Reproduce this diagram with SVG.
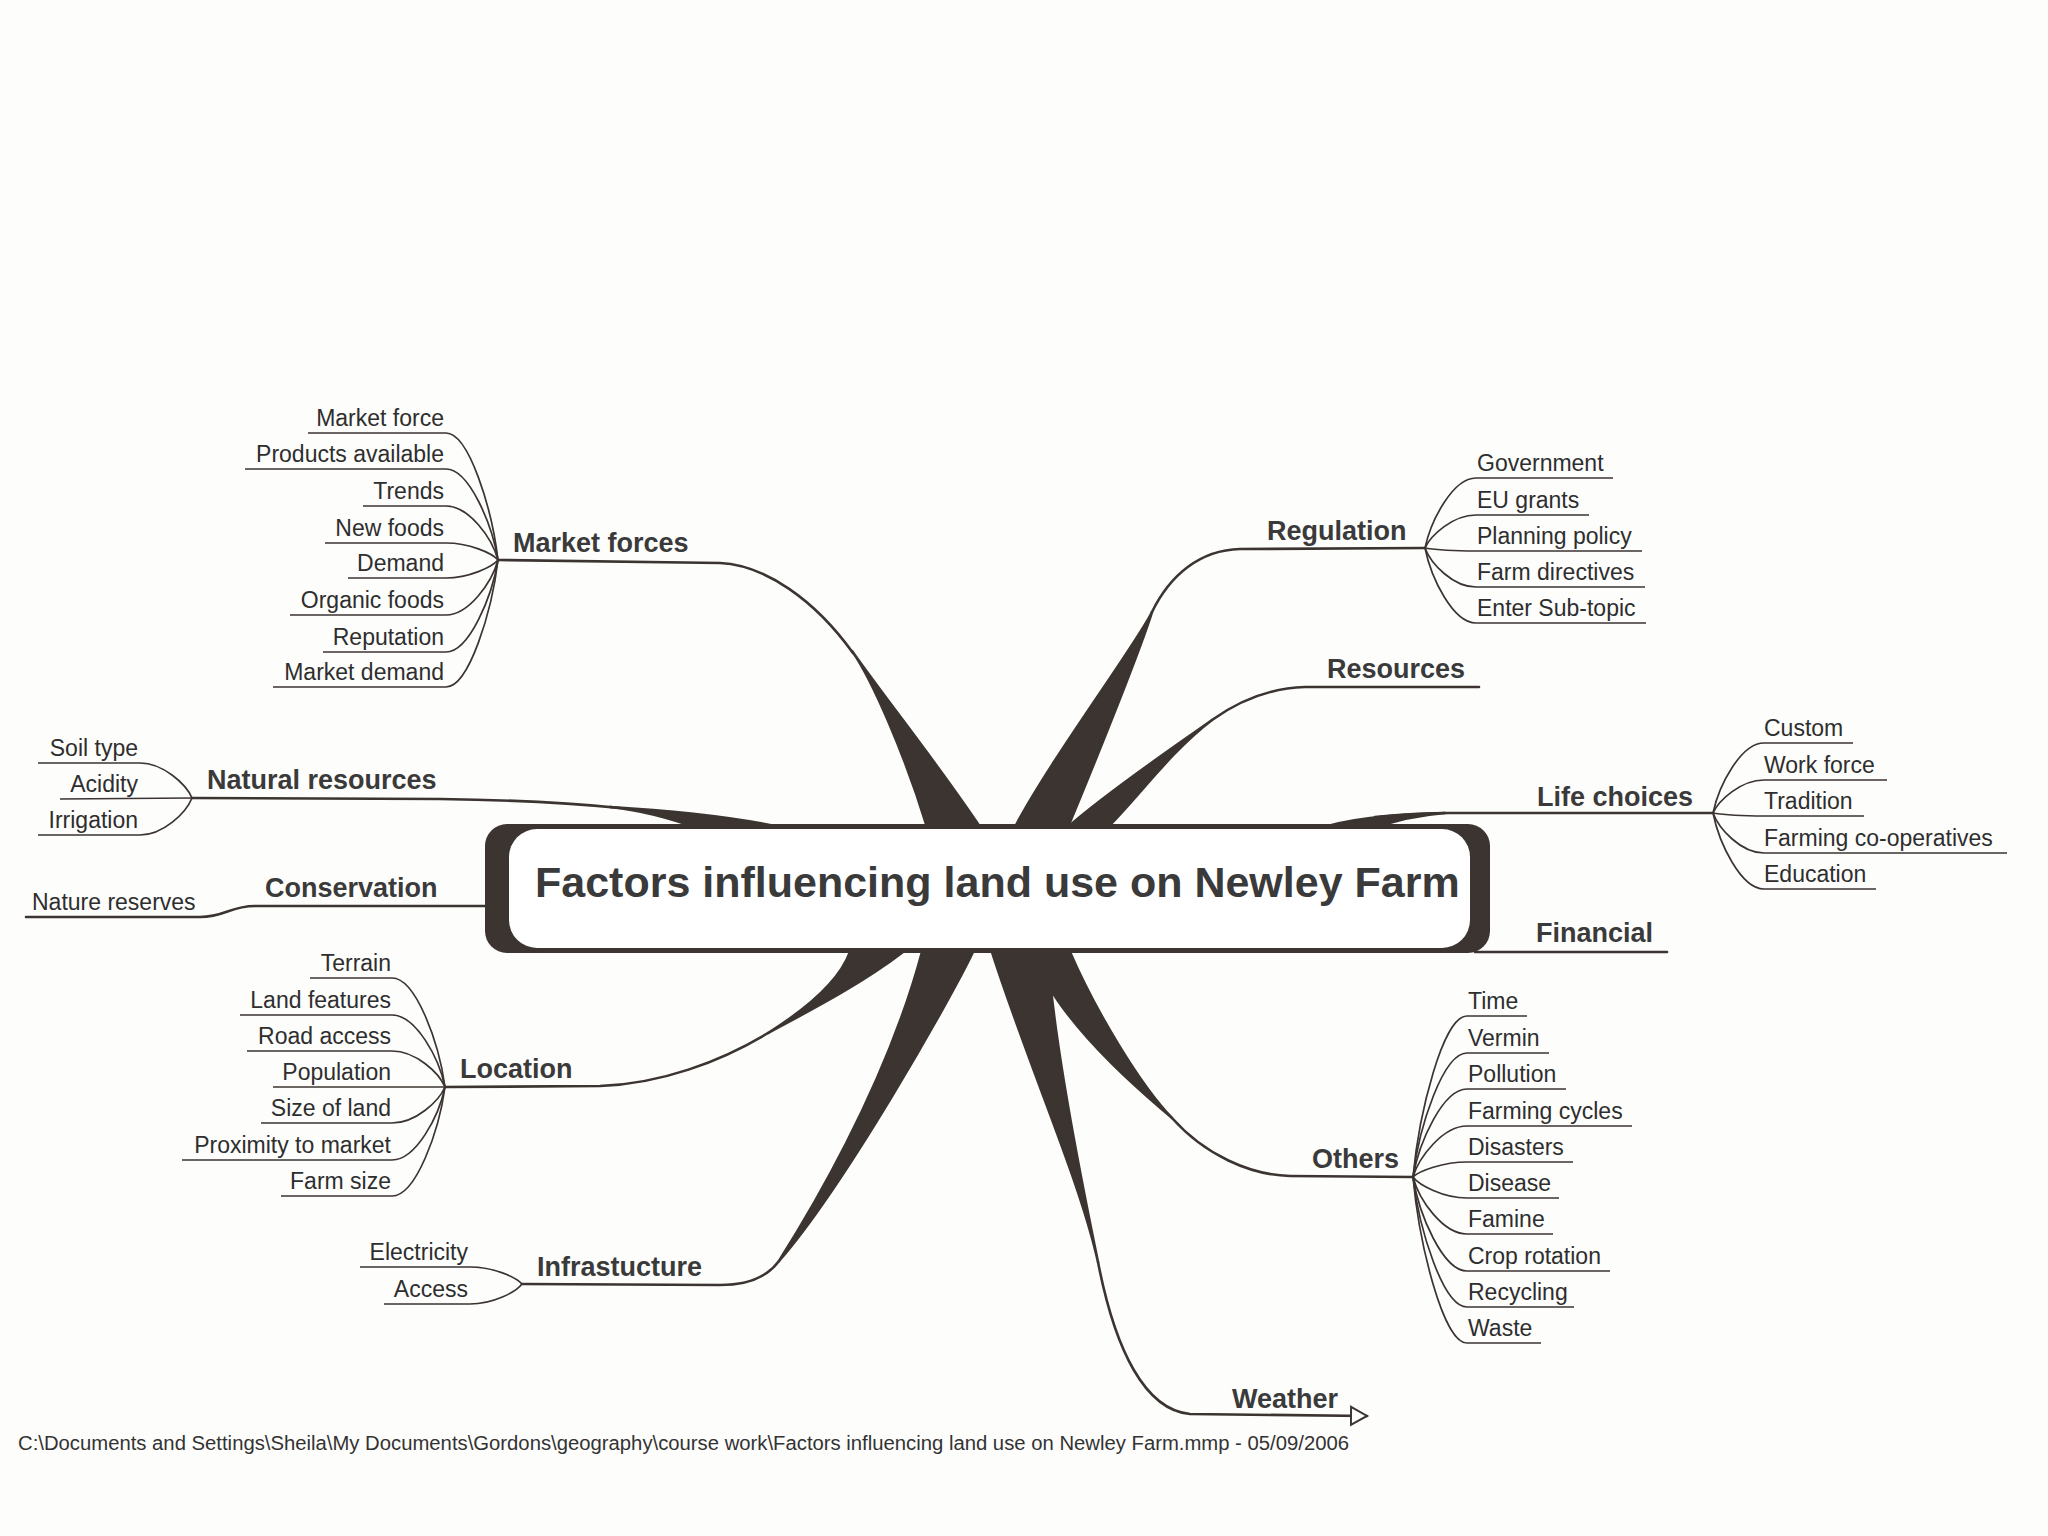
<svg xmlns="http://www.w3.org/2000/svg" width="2048" height="1536" viewBox="0 0 2048 1536">
<defs>
<style>
.w{fill:#3b3431;stroke:#3b3431;stroke-width:2.6;stroke-linejoin:round}
.m{fill:none;stroke:#3b3431;stroke-width:2.6;stroke-linecap:round}
.c{fill:none;stroke:#3b3431;stroke-width:1.7}
.t{font-family:"Liberation Sans",Arial,sans-serif;font-size:23px;fill:#2e2e2e}
.p{font-family:"Liberation Sans",Arial,sans-serif;font-size:27px;font-weight:bold;fill:#3a3a3a}
.e{text-anchor:end}
</style>
<marker id="arr" markerUnits="userSpaceOnUse" markerWidth="20" markerHeight="22" viewBox="0 0 20 22" refX="17" refY="11" orient="auto">
<path d="M1,2 L17,11 L1,20 Z" fill="#ffffff" stroke="#3b3431" stroke-width="2"/>
</marker>
</defs>
<rect x="0" y="0" width="2048" height="1536" fill="#fdfdfc"/>

<g id="connectors">
<!-- tapered main branches -->
<path class="w" d="M852,651 C872,679 905,755 927,827 L950,880 L1000,880 L980,827 C935,760 890,705 852,651 Z"/>
<path class="w" d="M1152,612 C1138,642 1050,760 1015,827 L1000,880 L1050,880 L1068,827 C1098,755 1140,650 1152,612 Z"/>
<path class="w" d="M1212,720 C1180,743 1110,790 1068,827 L1050,880 L1100,880 L1108,827 C1140,795 1170,752 1212,720 Z"/>
<path class="w" d="M610,807 C680,811 740,818 790,829 L800,860 L700,860 L700,829 C670,818 640,810 610,807 Z"/>
<path class="w" d="M1445,813 C1400,814 1350,818 1318,829 L1300,860 L1380,860 L1372,829 C1395,820 1420,815 1445,813 Z"/>
<path class="w" d="M768,1033 C800,1013 838,985 850,952 L870,900 L920,900 L903,952 C860,985 805,1013 768,1033 Z"/>
<path class="w" d="M779,1261 C805,1220 885,1090 922,952 L930,900 L980,900 L973,952 C950,1000 845,1185 779,1261 Z"/>
<path class="w" d="M1098,1262 C1080,1180 1030,1070 992,952 L990,900 L1040,900 L1048,952 C1052,1030 1080,1175 1098,1262 Z"/>
<path class="w" d="M1172,1118 C1140,1085 1095,1010 1070,952 L1060,900 L1040,900 L1048,952 L1048,985 C1080,1040 1145,1095 1172,1118 Z"/>
<!-- thin main lines -->
<path class="m" d="M498,560 L720,563 C765,565 815,600 853,653"/>
<path class="m" d="M1425,548 L1240,549 C1200,550 1170,575 1152,612"/>
<path class="m" d="M1479,687 L1305,687 C1270,688 1240,700 1212,720"/>
<path class="m" d="M192,798 L440,799 C520,800 580,804 620,808"/>
<path class="m" d="M26,917 L200,917 C225,917 230,906 255,906 L490,906"/>
<path class="m" d="M1713,813 L1450,813 C1420,813 1395,815 1375,817"/>
<path class="m" d="M1475,952 L1667,952"/>
<path class="m" d="M445,1087 L600,1086 C660,1084 720,1062 768,1033"/>
<path class="m" d="M522,1284 L720,1285 C748,1285 768,1276 779,1261"/>
<path class="m" d="M1413,1177 L1290,1176 C1250,1175 1205,1155 1172,1118"/>
<path class="m" d="M1098,1262 C1115,1350 1145,1410 1190,1414 L1367,1416" marker-end="url(#arr)"/>
<!-- Market forces children -->
<path class="c" d="M308,433 L446,433 C469,433 492,509 498,560"/>
<path class="c" d="M245,469 L446,469 C469,469 492,524 498,560"/>
<path class="c" d="M363,506 L446,506 C469,506 492,538 498,560"/>
<path class="c" d="M325,543 L446,543 C469,543 492,553 498,560"/>
<path class="c" d="M348,578 L446,578 C469,578 492,567 498,560"/>
<path class="c" d="M290,615 L446,615 C469,615 492,582 498,560"/>
<path class="c" d="M323,652 L446,652 C469,652 492,597 498,560"/>
<path class="c" d="M273,687 L446,687 C469,687 492,611 498,560"/>
<!-- Natural resources children -->
<path class="c" d="M38,763 L140,763 C163,763 186,784 192,798"/>
<path class="c" d="M60,799 L192,798"/>
<path class="c" d="M38,835 L140,835 C163,835 186,813 192,798"/>
<!-- Location children -->
<path class="c" d="M310,978 L392,978 C416,978 439,1043 445,1087"/>
<path class="c" d="M240,1015 L392,1015 C416,1015 439,1058 445,1087"/>
<path class="c" d="M247,1051 L392,1051 C416,1051 439,1073 445,1087"/>
<path class="c" d="M273,1087 L445,1087"/>
<path class="c" d="M261,1123 L392,1123 C416,1123 439,1101 445,1087"/>
<path class="c" d="M182,1160 L392,1160 C416,1160 439,1116 445,1087"/>
<path class="c" d="M281,1196 L392,1196 C416,1196 439,1131 445,1087"/>
<!-- Infrastucture children -->
<path class="c" d="M360,1267 L470,1267 C493,1267 516,1277 522,1284"/>
<path class="c" d="M384,1304 L470,1304 C493,1304 516,1292 522,1284"/>
<!-- Regulation children -->
<path class="c" d="M1425,548 C1431,520 1453,478 1476,478 L1613,478"/>
<path class="c" d="M1425,548 C1431,535 1453,515 1476,515 L1589,515"/>
<path class="c" d="M1425,548 C1431,549 1453,551 1476,551 L1642,551"/>
<path class="c" d="M1425,548 C1431,564 1453,587 1476,587 L1645,587"/>
<path class="c" d="M1425,548 C1431,578 1453,623 1476,623 L1646,623"/>
<!-- Life choices children -->
<path class="c" d="M1713,813 C1719,785 1741,743 1764,743 L1853,743"/>
<path class="c" d="M1713,813 C1719,800 1741,780 1764,780 L1887,780"/>
<path class="c" d="M1713,813 C1719,814 1741,816 1764,816 L1864,816"/>
<path class="c" d="M1713,813 C1719,829 1741,853 1764,853 L2007,853"/>
<path class="c" d="M1713,813 C1719,843 1741,889 1764,889 L1876,889"/>
<!-- Others children -->
<path class="c" d="M1413,1177 C1419,1113 1443,1016 1467,1016 L1527,1016"/>
<path class="c" d="M1413,1177 C1419,1127 1443,1053 1467,1053 L1549,1053"/>
<path class="c" d="M1413,1177 C1419,1142 1443,1089 1467,1089 L1566,1089"/>
<path class="c" d="M1413,1177 C1419,1157 1443,1126 1467,1126 L1632,1126"/>
<path class="c" d="M1413,1177 C1419,1171 1443,1162 1467,1162 L1573,1162"/>
<path class="c" d="M1413,1177 C1419,1185 1443,1198 1467,1198 L1559,1198"/>
<path class="c" d="M1413,1177 C1419,1200 1443,1234 1467,1234 L1553,1234"/>
<path class="c" d="M1413,1177 C1419,1215 1443,1271 1467,1271 L1610,1271"/>
<path class="c" d="M1413,1177 C1419,1229 1443,1307 1467,1307 L1574,1307"/>
<path class="c" d="M1413,1177 C1419,1243 1443,1343 1467,1343 L1541,1343"/>
</g>

<g id="node-center">
<rect x="485" y="824" width="1005" height="129" rx="22" ry="22" fill="#3b3431"/>
<rect x="509" y="829" width="961" height="119" rx="28" ry="28" fill="#ffffff"/>
<text x="535" y="897" style="font-family:'Liberation Sans',Arial,sans-serif;font-size:43px;font-weight:bold;fill:#3a3a3a">Factors influencing land use on Newley Farm</text>
</g>

<g id="node-market-forces"><text class="p" x="513" y="552">Market forces</text></g>
<g id="node-market-force"><text class="t e" x="444" y="426">Market force</text></g>
<g id="node-products-available"><text class="t e" x="444" y="462">Products available</text></g>
<g id="node-trends"><text class="t e" x="444" y="499">Trends</text></g>
<g id="node-new-foods"><text class="t e" x="444" y="536">New foods</text></g>
<g id="node-demand"><text class="t e" x="444" y="571">Demand</text></g>
<g id="node-organic-foods"><text class="t e" x="444" y="608">Organic foods</text></g>
<g id="node-reputation"><text class="t e" x="444" y="645">Reputation</text></g>
<g id="node-market-demand"><text class="t e" x="444" y="680">Market demand</text></g>

<g id="node-natural-resources"><text class="p" x="207" y="789">Natural resources</text></g>
<g id="node-soil-type"><text class="t e" x="138" y="756">Soil type</text></g>
<g id="node-acidity"><text class="t e" x="138" y="792">Acidity</text></g>
<g id="node-irrigation"><text class="t e" x="138" y="828">Irrigation</text></g>

<g id="node-conservation"><text class="p" x="265" y="897">Conservation</text></g>
<g id="node-nature-reserves"><text class="t" x="32" y="910">Nature reserves</text></g>

<g id="node-location"><text class="p" x="460" y="1078">Location</text></g>
<g id="node-terrain"><text class="t e" x="391" y="971">Terrain</text></g>
<g id="node-land-features"><text class="t e" x="391" y="1008">Land features</text></g>
<g id="node-road-access"><text class="t e" x="391" y="1044">Road access</text></g>
<g id="node-population"><text class="t e" x="391" y="1080">Population</text></g>
<g id="node-size-of-land"><text class="t e" x="391" y="1116">Size of land</text></g>
<g id="node-proximity"><text class="t e" x="391" y="1153">Proximity to market</text></g>
<g id="node-farm-size"><text class="t e" x="391" y="1189">Farm size</text></g>

<g id="node-infrastucture"><text class="p" x="537" y="1276">Infrastucture</text></g>
<g id="node-electricity"><text class="t e" x="468" y="1260">Electricity</text></g>
<g id="node-access"><text class="t e" x="468" y="1297">Access</text></g>

<g id="node-regulation"><text class="p" x="1267" y="540">Regulation</text></g>
<g id="node-government"><text class="t" x="1477" y="471">Government</text></g>
<g id="node-eu-grants"><text class="t" x="1477" y="508">EU grants</text></g>
<g id="node-planning-policy"><text class="t" x="1477" y="544">Planning policy</text></g>
<g id="node-farm-directives"><text class="t" x="1477" y="580">Farm directives</text></g>
<g id="node-enter-sub-topic"><text class="t" x="1477" y="616">Enter Sub-topic</text></g>

<g id="node-resources"><text class="p" x="1327" y="678">Resources</text></g>

<g id="node-life-choices"><text class="p" x="1537" y="806">Life choices</text></g>
<g id="node-custom"><text class="t" x="1764" y="736">Custom</text></g>
<g id="node-work-force"><text class="t" x="1764" y="773">Work force</text></g>
<g id="node-tradition"><text class="t" x="1764" y="809">Tradition</text></g>
<g id="node-farming-coops"><text class="t" x="1764" y="846">Farming co-operatives</text></g>
<g id="node-education"><text class="t" x="1764" y="882">Education</text></g>

<g id="node-financial"><text class="p" x="1536" y="942">Financial</text></g>

<g id="node-others"><text class="p" x="1312" y="1168">Others</text></g>
<g id="node-time"><text class="t" x="1468" y="1009">Time</text></g>
<g id="node-vermin"><text class="t" x="1468" y="1046">Vermin</text></g>
<g id="node-pollution"><text class="t" x="1468" y="1082">Pollution</text></g>
<g id="node-farming-cycles"><text class="t" x="1468" y="1119">Farming cycles</text></g>
<g id="node-disasters"><text class="t" x="1468" y="1155">Disasters</text></g>
<g id="node-disease"><text class="t" x="1468" y="1191">Disease</text></g>
<g id="node-famine"><text class="t" x="1468" y="1227">Famine</text></g>
<g id="node-crop-rotation"><text class="t" x="1468" y="1264">Crop rotation</text></g>
<g id="node-recycling"><text class="t" x="1468" y="1300">Recycling</text></g>
<g id="node-waste"><text class="t" x="1468" y="1336">Waste</text></g>

<g id="node-weather"><text class="p" x="1232" y="1408">Weather</text></g>

<g id="footer"><text x="18" y="1450" textLength="1331" lengthAdjust="spacingAndGlyphs" style="font-family:'Liberation Sans',Arial,sans-serif;font-size:20px;fill:#333333">C:\Documents and Settings\Sheila\My Documents\Gordons\geography\course work\Factors influencing land use on Newley Farm.mmp - 05/09/2006</text></g>
</svg>
